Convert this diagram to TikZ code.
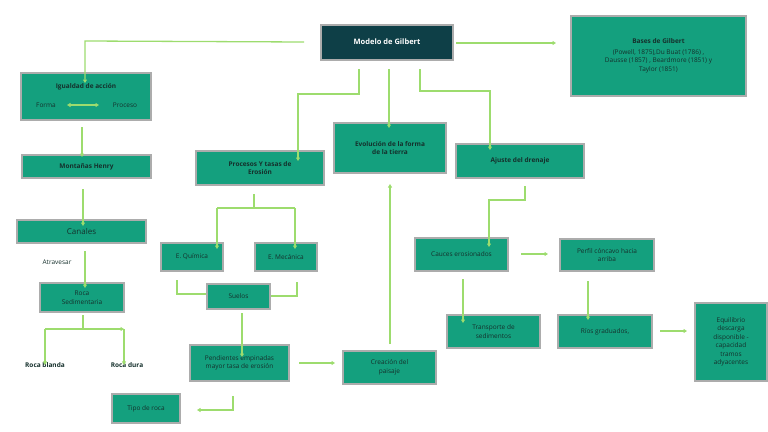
\documentclass[tikz,border=0pt]{standalone}
\usepackage{fontspec}
\setmainfont{Open Sans}
\usetikzlibrary{arrows.meta}
\definecolor{boxg}{HTML}{14A07E}
\definecolor{dark}{HTML}{0E3F47}
\definecolor{lg}{HTML}{9DDC6E}
\definecolor{txt}{HTML}{15302C}
\tikzset{
 bx/.style={draw=gray!65,line width=2pt,fill=boxg,text=txt,align=center,inner sep=0pt,font=\fontsize{6.5}{8.5}\selectfont},
 ar/.style={draw=lg,line width=1.3pt,-{Triangle[length=3.5pt,width=4pt]}},
 ln/.style={draw=lg,line width=1.3pt},
 lbl/.style={text=txt,font=\fontsize{6.5}{8.5}\selectfont}
}
\newcommand{\bxat}[5]{\node[bx,minimum width=#3-#1,minimum height=#4-#2] (#5) at ({(#1+#3)/2},{(#2+#4)/2})}
\begin{document}
\begin{tikzpicture}[x=1pt,y=-1pt]
\useasboundingbox (0,0) rectangle (768,431);
\node[bx,fill=dark,text=white,minimum width=132,minimum height=35,font=\fontsize{7.5}{9}\selectfont\bfseries] (mod) at (387,42) {Modelo de Gilbert};
\bxat{571}{16}{746}{96}{bas} {\textbf{Bases de Gilbert}\\[2pt](Powell, 1875),Du Buat (1786) ,\\ Dausse (1857) , Beardmore (1851) y\\ Taylor (1851)};
\bxat{21}{73}{151}{120}{igu} {};
\node[lbl,font=\fontsize{6.5}{8}\selectfont\bfseries] (igt) at (86,87) {Igualdad de acción};
\node[lbl] (forma) at (46,105) {Forma};
\node[lbl] (proc) at (125,105) {Proceso};
\coordinate (fa) at (67,105); \coordinate (fb) at (99,105);
\draw[lg,line width=1.3pt,{Triangle[length=3.5pt,width=4pt]}-{Triangle[length=3.5pt,width=4pt]}] (fa) -- (fb);
\bxat{22}{155}{151}{178}{mon} {\textbf{Montañas Henry}};
\bxat{17}{220}{146}{243}{can} {\fontsize{8}{9}\selectfont Canales};
\bxat{40}{283}{124}{312}{rsed} {Roca\\Sedimentaria};
\node[lbl,font=\fontsize{6.5}{8}\selectfont\bfseries] (rbl) at (45,365) {Roca blanda};
\node[lbl,font=\fontsize{6.5}{8}\selectfont\bfseries] (rdu) at (127,365) {Roca dura};
\node[lbl] (atr) at (57,262) {Atravesar};
\bxat{196}{151}{324}{185}{pro} {\textbf{Procesos Y tasas de}\\\textbf{Erosión}};
\bxat{334}{123}{446}{173}{evo} {\textbf{Evolución de la forma}\\\textbf{de la tierra}};
\bxat{456}{144}{584}{178}{aju} {\textbf{Ajuste del drenaje}};
\bxat{161}{243}{223}{271}{qui} {E. Química};
\bxat{255}{243}{317}{271}{mec} {E. Mecánica};
\bxat{207}{284}{270}{309}{sue} {Suelos};
\bxat{190}{345}{289}{381}{pen} {Pendientes empinadas\\mayor tasa de erosión};
\bxat{343}{351}{436}{384}{cre} {Creación del\\paisaje};
\bxat{112}{394}{180}{423}{tip} {Tipo de roca};
\bxat{415}{238}{508}{271}{cau} {Cauces erosionados};
\bxat{560}{239}{654}{271}{per} {Perfil cóncavo hacia\\arriba};
\bxat{447}{315}{540}{348}{tra} {Transporte de\\sedimentos};
\bxat{558}{315}{652}{348}{rio} {Ríos graduados,};
\bxat{695}{303}{767}{381}{equ} {Equilibrio\\descarga\\disponible -\\capacidad\\tramos\\adyacentes};
% connectors
\draw[ar] ([xshift=-16]mod.west) -- (85,41) -- ([yshift=-11]igu.north -| 85,0);
\draw[ar] ([xshift=2]mod.east |- 0,43) -- ([xshift=-14]bas.west |- 0,43);
\draw[ar] (359,69) -- (359,94) -- (298,94) -- ([yshift=-11]pro.north -| 298,0);
\draw[ar] (389,69) -- ([yshift=-6]evo.north -| 389,0);
\draw[ar] (420,69) -- (420,91) -- (490,91) -- ([yshift=-7]aju.north -| 490,0);
\draw[ar] ([yshift=-6]igu.south -| 82,0) -- ([yshift=-3]mon.north -| 82,0);
\draw[ar] ([yshift=-10]mon.south -| 83,0) -- ([yshift=-7]can.north -| 83,0);
\draw[ar] ([yshift=-7]can.south -| 85,0) -- ([yshift=-6]rsed.north -| 85,0);
\draw[ln] ([yshift=-2]rsed.south -| 83,0) -- (83,329);
\draw[ar] (45,329) -- (124,329);
\draw[ar] (45,329) -- ([yshift=-6]rbl.north -| 45,0);
\draw[ar] (124,329) -- ([yshift=-6]rdu.north -| 124,0);
\draw[ln] ([yshift=-8]pro.south -| 254,0) -- (254,208);
\draw[ar] (217,208) -- ([yshift=-7]qui.north -| 217,0);
\draw[ar] (295,208) -- ([yshift=-7]mec.north -| 295,0);
\draw[ln] (217,208) -- (295,208);
\draw[ln] ([yshift=-8]qui.south -| 177,0) -- (177,294) -- (sue.west |- 0,294);
\draw[ln] ([yshift=-10]mec.south -| 297,0) -- (297,296) -- (sue.east |- 0,296);
\draw[ar] ([yshift=-3]sue.south -| 242,0) -- ([yshift=-13]pen.north -| 242,0);
\draw[ar] ([xshift=9]pen.east |- 0,363) -- ([xshift=-7]cre.west |- 0,363);
\draw[ar] ([yshift=-14]pen.south -| 233,0) -- (233,410) -- ([xshift=16]tip.east |- 0,410);
\draw[ar] ([yshift=6]cre.north -| 390,0) -- ([yshift=-10]evo.south -| 390,0);
\draw[ar] ([yshift=-7]aju.south -| 525,0) -- (525,200) -- (489,200) -- ([yshift=-10]cau.north -| 489,0);
\draw[ar] ([xshift=12]cau.east |- 0,254) -- ([xshift=-11]per.west |- 0,254);
\draw[ar] ([yshift=-7]cau.south -| 463,0) -- ([yshift=-9]tra.north -| 463,0);
\draw[ar] ([yshift=-9]per.south -| 588,0) -- ([yshift=-6]rio.north -| 588,0);
\draw[ar] ([xshift=7]rio.east |- 0,331) -- ([xshift=-7]equ.west |- 0,331);
\end{tikzpicture}
\end{document}
